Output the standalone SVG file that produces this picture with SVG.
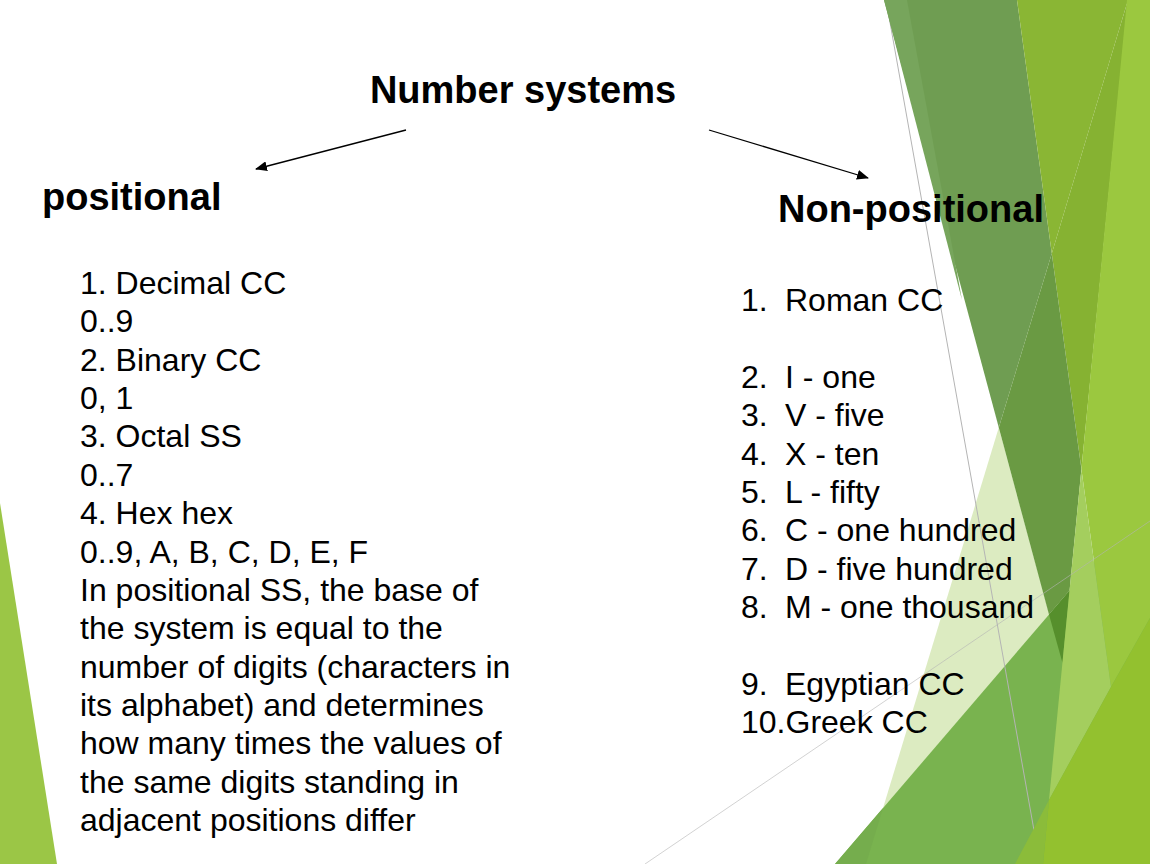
<svg xmlns="http://www.w3.org/2000/svg" width="1150" height="864" viewBox="0 0 1150 864">
<defs>
<style>
.t{font-family:"Liberation Sans",Arial,sans-serif;font-size:32px;fill:#000}
.h{font-family:"Liberation Sans",Arial,sans-serif;font-size:38px;font-weight:bold;fill:#000}
.ln{stroke:#000;stroke-width:1.3;fill:none}
.gl{stroke:#B4B4B4;stroke-width:1;fill:none}
</style>
<marker id="ah" viewBox="0 0 12 10" refX="11" refY="5" markerWidth="12" markerHeight="10" markerUnits="userSpaceOnUse" orient="auto">
<path d="M0,0 L12,5 L0,10 z" fill="#000"/>
</marker>
</defs>
<rect width="1150" height="864" fill="#fff"/>
<g id="decoration">
<polygon points="0,503 57,864 0,864" fill="#9BC646"/>
<polygon points="998.8,427.6 1062.5,663 1043,864 866,864" fill="#DCEBC1"/>
<polygon points="835,864 1150,497 1150,864" fill="#79B34F"/>
<polygon points="835,864 866,864 883,808" fill="#75AD4D"/>
<line class="gl" x1="886" y1="0" x2="1040" y2="864"/>
<polygon points="884,0 1017,0 1051.8,253.5 998.8,427.6" fill="#6F9D52"/>
<polygon points="884,0 907,0 962,300" fill="#77A55C"/>
<polygon points="1017,0 1128,0 1051.8,253.5" fill="#8AB634"/>
<polygon points="1128,0 1081.4,469 1051.8,253.5" fill="#86B232"/>
<polygon points="998.8,427.6 1051.8,253.5 1081.4,469 1069.6,590.5 1049,614.5" fill="#6A9A43"/>
<polygon points="1049,614.5 1069.6,590.5 1062.5,663" fill="#568F2C"/>
<polygon points="1127,0 1150,0 1150,618 1111,687 1081.4,469" fill="#9BC83F"/>
<polygon points="1081.4,469 1111,687 1049,800" fill="#A4CE5E"/>
<polygon points="1150,618 1150,864 1043,864 1049,800 1111,687" fill="#93C12F"/>
<polygon points="1015,864 1043,864 1049,800" fill="#8BBC3A"/>
<line class="gl" x1="645" y1="864" x2="1150" y2="521" stroke-opacity="0.6"/>
</g>
<g id="connectors">
<line class="ln" x1="406" y1="130" x2="256" y2="169" marker-end="url(#ah)"/>
<line class="ln" x1="709" y1="130" x2="868" y2="178" marker-end="url(#ah)"/>
</g>
<g id="title"><text class="h" x="523" y="103" text-anchor="middle">Number systems</text></g>
<g id="positional"><text class="h" x="42" y="210">positional</text></g>
<g id="nonpositional"><text class="h" x="778" y="222">Non-positional</text></g>
<g id="positional-list">
<text class="t" x="80" y="294">1. Decimal CC</text>
<text class="t" x="80" y="332.4">0..9</text>
<text class="t" x="80" y="370.7">2. Binary CC</text>
<text class="t" x="80" y="409">0, 1</text>
<text class="t" x="80" y="447.4">3. Octal SS</text>
<text class="t" x="80" y="485.8">0..7</text>
<text class="t" x="80" y="524">4. Hex hex</text>
<text class="t" x="80" y="562.5">0..9, A, B, C, D, E, F</text>
<text class="t" x="80" y="600.8">In positional SS, the base of</text>
<text class="t" x="80" y="639.2">the system is equal to the</text>
<text class="t" x="80" y="677.5">number of digits (characters in</text>
<text class="t" x="80" y="715.9">its alphabet) and determines</text>
<text class="t" x="80" y="754.2">how many times the values of</text>
<text class="t" x="80" y="792.6">the same digits standing in</text>
<text class="t" x="80" y="830.9">adjacent positions differ</text>
</g>
<g id="nonpositional-list">
<text class="t" x="741" y="311">1.<tspan x="785">Roman CC</tspan></text>
<text class="t" x="741" y="388">2.<tspan x="785">I - one</tspan></text>
<text class="t" x="741" y="426.3">3.<tspan x="785">V - five</tspan></text>
<text class="t" x="741" y="464.6">4.<tspan x="785">X - ten</tspan></text>
<text class="t" x="741" y="503">5.<tspan x="785">L - fifty</tspan></text>
<text class="t" x="741" y="541.3">6.<tspan x="785">C - one hundred</tspan></text>
<text class="t" x="741" y="579.6">7.<tspan x="785">D - five hundred</tspan></text>
<text class="t" x="741" y="618">8.<tspan x="785">M - one thousand</tspan></text>
<text class="t" x="741" y="694.6">9.<tspan x="785">Egyptian CC</tspan></text>
<text class="t" x="741" y="733">10.Greek CC</text>
</g>
</svg>
